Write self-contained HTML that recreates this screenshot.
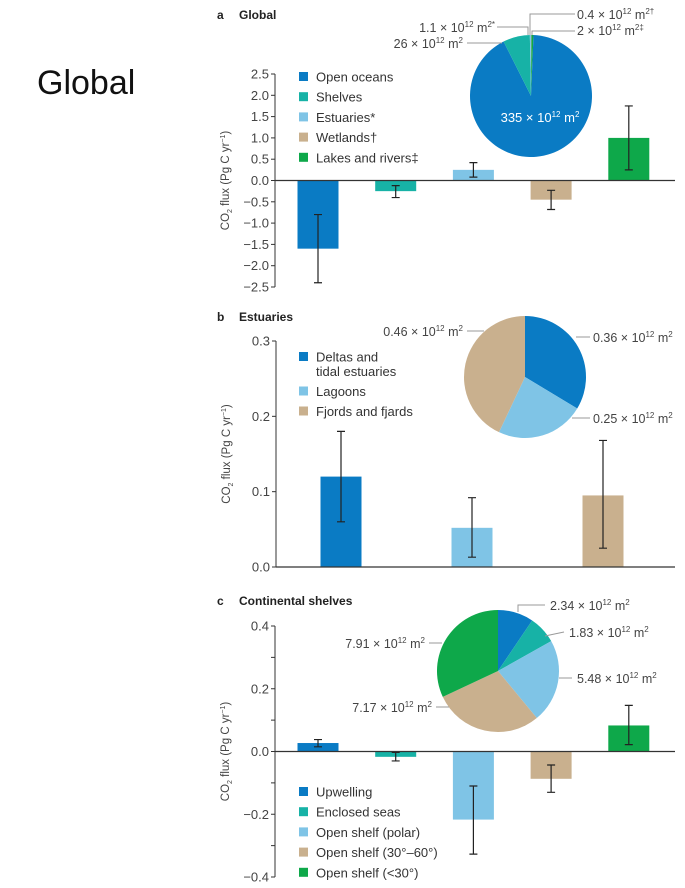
<!DOCTYPE html>
<html><head><meta charset="utf-8"><style>
html,body{margin:0;padding:0;background:#fff;width:685px;height:888px;overflow:hidden}
svg{display:block;font-family:"Liberation Sans",sans-serif}
</style></head><body>
<svg id="s" width="685" height="888" viewBox="0 0 685 888">
<text x="37" y="94" font-size="34" fill="#111">Global</text>
</svg>
<script>
const COL=["#0a7bc4","#17b2a6","#7fc4e6","#c9b08e","#0ea84a"];
// Panel a
const aCats=["Open oceans","Shelves","Estuaries*","Wetlands†","Lakes and rivers‡"];
const aVals=[-1.6,-0.25,0.25,-0.45,1.0];
const aLo=[-2.4,-0.4,0.08,-0.68,0.25];
const aHi=[-0.8,-0.12,0.42,-0.23,1.75];
const aTicks=[2.5,2.0,1.5,1.0,0.5,0.0,-0.5,-1.0,-1.5,-2.0,-2.5];
const aTickLabels=["2.5","2.0","1.5","1.0","0.5","0.0","-0.5","-1.0","-1.5","-2.0","-2.5"];
const aPieVals=[0.4,2,335,26,1.1];
const aPieCols=[3,4,0,1,2];
// Panel b
const bCats=["Deltas and|tidal estuaries","Lagoons","Fjords and fjards"];
const bVals=[0.12,0.052,0.095];
const bLo=[0.06,0.013,0.025];
const bHi=[0.18,0.092,0.168];
const bTicks=[0.3,0.2,0.1,0.0];
const bTickLabels=["0.3","0.2","0.1","0.0"];
const bPieVals=[0.36,0.25,0.46];
const bPieCols=[0,2,3];
// Panel c
const cCats=["Upwelling","Enclosed seas","Open shelf (polar)","Open shelf (30°–60°)","Open shelf (<30°)"];
const cVals=[0.027,-0.017,-0.217,-0.087,0.083];
const cLo=[0.015,-0.03,-0.327,-0.13,0.022];
const cHi=[0.038,-0.003,-0.11,-0.043,0.147];
const cTicks=[0.4,0.3,0.2,0.1,0.0,-0.1,-0.2,-0.3,-0.4];
const cTickLabels=["0.4","","0.2","","0.0","","-0.2","","-0.4"];
const cPieVals=[2.34,1.83,5.48,7.17,7.91];
const cPieCols=[0,1,2,3,4];

const S=document.getElementById('s');const NS="http://www.w3.org/2000/svg";
function el(t,a,txt){const e=document.createElementNS(NS,t);for(const k in a)e.setAttribute(k,a[k]);if(txt!==undefined)e.textContent=txt;S.appendChild(e);return e;}

function panel(o){
  const y=v=>o.y0-(v-o.vmin)*(o.y0-o.y1)/(o.vmax-o.vmin);
  const tl=el('text',{x:217,y:o.ty,'font-size':12,'font-weight':'bold',fill:'#222'},o.letter);
  
  
  const t=el('text',{x:239,y:o.ty,'font-size':12,'font-weight':'bold',fill:'#222'},o.title);
  
  
  const ax=el('line',{x1:o.ax,x2:o.ax,y1:y(o.vmax),y2:y(o.vmin),stroke:'#333','stroke-width':1});
  
  
  o.ticks.forEach((v,i)=>{
    const tk=el('line',{x1:o.ax-4,x2:o.ax,y1:y(v),y2:y(v),stroke:'#333'});
    
    
    if(o.labels[i]){const l=el('text',{x:o.ax-6,y:y(v)+4.5,'font-size':13,'text-anchor':'end',fill:'#444'},o.labels[i].replace('-','−'));
      
      }
  });
  const yt=el('text',{transform:`translate(${o.ax-46},${(y(o.vmax)+y(o.vmin))/2}) rotate(-90)`,'font-size':11.5,'text-anchor':'middle',fill:'#444'});
  yt.innerHTML='CO<tspan font-size="7" dy="3">2</tspan><tspan dy="-3"> flux (Pg C yr</tspan><tspan font-size="7" dy="-4">−1</tspan><tspan dy="4">)</tspan>';
  
  
  const bw=41;
  o.vals.forEach((v,i)=>{
    const cx=o.x0+i*o.step;
    const b=el('rect',{x:cx-bw/2,y:Math.min(y(v),y(0)),width:bw,height:Math.abs(y(v)-y(0)),fill:COL[o.cols[i]]});
    
    
    const g=el('path',{d:`M${cx},${y(o.lo[i])}V${y(o.hi[i])}M${cx-4},${y(o.lo[i])}h8M${cx-4},${y(o.hi[i])}h8`,stroke:'#222','stroke-width':1.2,fill:'none'});
    
    
  });
  const bl=el('line',{x1:o.ax,x2:675,y1:y(0),y2:y(0),stroke:'#333','stroke-width':1.3});
  
  
  let ly=o.ly;
  o.cats.forEach((c,i)=>{
    const parts=c.split('|');
    const sq=el('rect',{x:299,y:ly-5,width:9,height:9,fill:COL[o.cols[i]]});
    
    
    parts.forEach((p,j)=>{const lt=el('text',{x:316,y:ly+4.5+j*14.5,'font-size':13,fill:'#333'},p);
      
      });
    ly+=o.lstep+(parts.length-1)*14.5;
  });
  const tot=o.pie.reduce((a,b)=>a+b,0);let ang=0;
  o.pie.forEach((v,i)=>{
    const a0=ang,a1=ang+v/tot*2*Math.PI;ang=a1;
    const P=a=>[o.pcx+o.pr*Math.sin(a),o.pcy-o.pr*Math.cos(a)];
    const [x0,y0]=P(a0),[x1,y1]=P(a1);
    const s=el('path',{d:`M${o.pcx},${o.pcy}L${x0},${y0}A${o.pr},${o.pr} 0 ${a1-a0>Math.PI?1:0} 1 ${x1},${y1}Z`,fill:COL[o.pcols[i]]});
    
    
  });
  o.plabels.forEach(p=>{
    if(p.line){const ln=el('polyline',{points:p.line,stroke:'#999',fill:'none','stroke-width':1});
      
      }
    const tx=el('text',{x:p.x,y:p.y,'font-size':p.fs||12.5,'text-anchor':p.anchor||'start',fill:p.fill||'#444'});
    tx.innerHTML=p.t.replace('10^12','10<tspan font-size="8" dy="-5">12</tspan><tspan dy="5"> </tspan>').replace('m2','m<tspan font-size="8" dy="-5">2'+(p.sup||'')+'</tspan>');
    
    
  });
}
panel({letter:'a',title:'Global',ty:19,ax:275,vmax:2.5,vmin:-2.5,y1:74,y0:287,ticks:aTicks,labels:aTickLabels,
  vals:aVals,lo:aLo,hi:aHi,cols:[0,1,2,3,4],x0:318,step:77.7,cats:aCats,ly:77,lstep:20.2,
  pie:aPieVals,pcols:aPieCols,pcx:531,pcy:96,pr:61,
  plabels:[{t:'0.4 × 10^12 m2',sup:'†',x:577,y:19,line:'530,35 530,14 575,14'},
           {t:'2 × 10^12 m2',sup:'‡',x:577,y:35,line:'532,35 532,31 575,31'},
           {t:'1.1 × 10^12 m2',sup:'*',x:495,y:32,anchor:'end',line:'497,27 528,27 528,35'},
           {t:'26 × 10^12 m2',x:463,y:48,anchor:'end',line:'467,43 502,43'},
           {t:'335 × 10^12 m2',x:540,y:122,anchor:'middle',fill:'#fff',fs:13}]});
panel({letter:'b',title:'Estuaries',ty:321,ax:276,vmax:0.3,vmin:0,y1:341,y0:567,ticks:bTicks,labels:bTickLabels,
  vals:bVals,lo:bLo,hi:bHi,cols:[0,2,3],x0:341,step:131,cats:bCats,ly:357,lstep:20,
  pie:bPieVals,pcols:bPieCols,pcx:525,pcy:377,pr:61,
  plabels:[{t:'0.46 × 10^12 m2',x:463,y:336,anchor:'end',line:'467,331 484,331'},
           {t:'0.36 × 10^12 m2',x:593,y:342,line:'576,337 590,337'},
           {t:'0.25 × 10^12 m2',x:593,y:423,line:'572,418 590,418'}]});
panel({letter:'c',title:'Continental shelves',ty:605,ax:275,vmax:0.4,vmin:-0.4,y1:626,y0:877,ticks:cTicks,labels:cTickLabels,
  vals:cVals,lo:cLo,hi:cHi,cols:[0,1,2,3,4],x0:318,step:77.7,cats:cCats,ly:792,lstep:20.2,
  pie:cPieVals,pcols:cPieCols,pcx:498,pcy:671,pr:61,
  plabels:[{t:'2.34 × 10^12 m2',x:550,y:610,line:'518,612 518,605 545,605'},
           {t:'1.83 × 10^12 m2',x:569,y:637,line:'545,636 564,632'},
           {t:'5.48 × 10^12 m2',x:577,y:683,line:'559,678 572,678'},
           {t:'7.91 × 10^12 m2',x:425,y:648,anchor:'end',line:'429,643 442,643'},
           {t:'7.17 × 10^12 m2',x:432,y:712,anchor:'end',line:'436,707 449,707'}]});
</script>
</body></html>
